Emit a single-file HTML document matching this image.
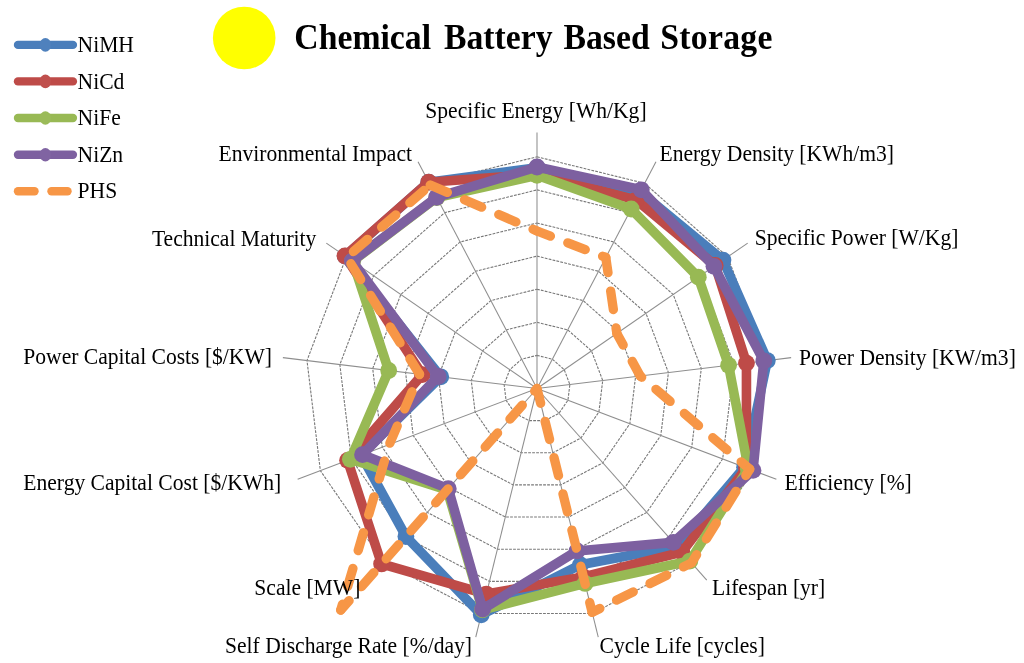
<!DOCTYPE html>
<html lang="en"><head><meta charset="utf-8"><title>Chemical Battery Based Storage</title>
<style>
html,body{margin:0;padding:0;background:#fff;}
body{width:1024px;height:663px;overflow:hidden;position:relative;font-family:"Liberation Serif","Times New Roman",serif;}
svg{position:absolute;left:0;top:0;display:block;}
text{font-family:"Liberation Serif","Times New Roman",serif;fill:#000;}
.lab{font-size:22.8px;}
.leg{font-size:22.8px;}
.title{font-size:36px;font-weight:bold;}
</style></head><body>
<svg width="1024" height="663" viewBox="0 0 1024 663">
<rect width="1024" height="663" fill="#fff"/>
<g fill="none" stroke="#787878" stroke-width="1.1" stroke-dasharray="2.8 1.2">
<polygon points="537.00,355.40 552.38,359.19 564.24,369.70 569.86,384.51 567.95,400.24 558.95,413.28 544.92,420.64 529.08,420.64 515.05,413.28 506.05,400.24 504.14,384.51 509.76,369.70 521.62,359.19"/>
<polygon points="537.00,322.30 567.76,329.88 591.48,350.89 602.72,380.52 598.90,411.97 580.90,438.05 552.84,452.78 521.16,452.78 493.10,438.05 475.10,411.97 471.28,380.52 482.52,350.89 506.24,329.88"/>
<polygon points="537.00,289.20 583.15,300.57 618.72,332.09 635.58,376.53 629.85,423.71 602.85,462.83 560.76,484.91 513.24,484.91 471.15,462.83 444.15,423.71 438.42,376.53 455.28,332.09 490.85,300.57"/>
<polygon points="537.00,256.10 598.53,271.27 645.96,313.29 668.43,372.54 660.80,435.45 624.80,487.60 568.69,517.05 505.31,517.05 449.20,487.60 413.20,435.45 405.57,372.54 428.04,313.29 475.47,271.27"/>
<polygon points="537.00,223.00 613.91,241.96 673.20,294.49 701.29,368.55 691.75,447.19 646.75,512.38 576.61,549.19 497.39,549.19 427.25,512.38 382.25,447.19 372.71,368.55 400.80,294.49 460.09,241.96"/>
<polygon points="537.00,189.90 629.29,212.65 700.44,275.68 734.15,364.56 722.69,458.92 668.70,537.15 584.53,581.33 489.47,581.33 405.30,537.15 351.31,458.92 339.85,364.56 373.56,275.68 444.71,212.65"/>
<polygon points="537.00,156.80 644.68,183.34 727.69,256.88 767.01,360.57 753.64,470.66 690.65,561.93 592.45,613.47 481.55,613.47 383.35,561.93 320.36,470.66 306.99,360.57 346.31,256.88 429.32,183.34"/>
</g>
<g stroke="#8e8e8e" stroke-width="1.05">
<line x1="537.0" y1="388.5" x2="537.00" y2="132.50"/>
<line x1="537.0" y1="388.5" x2="655.97" y2="161.82"/>
<line x1="537.0" y1="388.5" x2="747.68" y2="243.08"/>
<line x1="537.0" y1="388.5" x2="791.13" y2="357.64"/>
<line x1="537.0" y1="388.5" x2="776.36" y2="479.28"/>
<line x1="537.0" y1="388.5" x2="706.76" y2="580.12"/>
<line x1="537.0" y1="388.5" x2="598.26" y2="637.06"/>
<line x1="537.0" y1="388.5" x2="475.74" y2="637.06"/>
<line x1="537.0" y1="388.5" x2="367.24" y2="580.12"/>
<line x1="537.0" y1="388.5" x2="297.64" y2="479.28"/>
<line x1="537.0" y1="388.5" x2="282.87" y2="357.64"/>
<line x1="537.0" y1="388.5" x2="326.32" y2="243.08"/>
<line x1="537.0" y1="388.5" x2="418.03" y2="161.82"/>
</g>
<polygon points="537.00,167.70 640.17,191.93 722.99,260.12 767.31,360.54 744.57,467.22 676.92,546.44 580.46,564.82 481.24,614.73 405.90,536.48 361.22,455.17 440.71,376.81 345.24,256.14 428.72,182.19" fill="none" stroke="#4A7EBB" stroke-width="9.6" stroke-linejoin="round"/>
<g fill="#4A7EBB"><circle cx="537.00" cy="167.70" r="8.4"/><circle cx="640.17" cy="191.93" r="8.4"/><circle cx="722.99" cy="260.12" r="8.4"/><circle cx="767.31" cy="360.54" r="8.4"/><circle cx="744.57" cy="467.22" r="8.4"/><circle cx="676.92" cy="546.44" r="8.4"/><circle cx="580.46" cy="564.82" r="8.4"/><circle cx="481.24" cy="614.73" r="8.4"/><circle cx="405.90" cy="536.48" r="8.4"/><circle cx="361.22" cy="455.17" r="8.4"/><circle cx="440.71" cy="376.81" r="8.4"/><circle cx="345.24" cy="256.14" r="8.4"/><circle cx="428.72" cy="182.19" r="8.4"/></g>
<polygon points="537.00,174.20 635.99,199.90 715.18,265.51 746.46,363.07 746.44,467.93 681.96,552.12 583.43,576.86 486.34,594.05 381.56,563.95 347.57,460.34 422.34,374.58 345.00,255.97 428.72,182.19" fill="none" stroke="#BE4B48" stroke-width="9.6" stroke-linejoin="round"/>
<g fill="#BE4B48"><circle cx="537.00" cy="174.20" r="8.4"/><circle cx="635.99" cy="199.90" r="8.4"/><circle cx="715.18" cy="265.51" r="8.4"/><circle cx="746.46" cy="363.07" r="8.4"/><circle cx="746.44" cy="467.93" r="8.4"/><circle cx="681.96" cy="552.12" r="8.4"/><circle cx="583.43" cy="576.86" r="8.4"/><circle cx="486.34" cy="594.05" r="8.4"/><circle cx="381.56" cy="563.95" r="8.4"/><circle cx="347.57" cy="460.34" r="8.4"/><circle cx="422.34" cy="374.58" r="8.4"/><circle cx="345.00" cy="255.97" r="8.4"/><circle cx="428.72" cy="182.19" r="8.4"/></g>
<polygon points="537.00,175.30 631.20,209.02 698.30,277.16 728.59,365.24 748.31,468.64 689.85,561.03 585.05,583.47 482.44,609.87 447.15,489.92 350.37,459.28 388.69,370.49 352.65,261.25 436.76,197.51" fill="none" stroke="#98B954" stroke-width="9.6" stroke-linejoin="round"/>
<g fill="#98B954"><circle cx="537.00" cy="175.30" r="8.4"/><circle cx="631.20" cy="209.02" r="8.4"/><circle cx="698.30" cy="277.16" r="8.4"/><circle cx="728.59" cy="365.24" r="8.4"/><circle cx="748.31" cy="468.64" r="8.4"/><circle cx="689.85" cy="561.03" r="8.4"/><circle cx="585.05" cy="583.47" r="8.4"/><circle cx="482.44" cy="609.87" r="8.4"/><circle cx="447.15" cy="489.92" r="8.4"/><circle cx="350.37" cy="459.28" r="8.4"/><circle cx="388.69" cy="370.49" r="8.4"/><circle cx="352.65" cy="261.25" r="8.4"/><circle cx="436.76" cy="197.51" r="8.4"/></g>
<polygon points="537.00,167.00 641.28,189.80 713.94,266.37 763.83,360.96 752.99,470.41 673.34,542.39 577.04,550.94 482.63,609.10 448.27,488.65 362.53,454.67 438.13,376.49 352.32,261.03 436.62,197.24" fill="none" stroke="#7D60A0" stroke-width="9.6" stroke-linejoin="round"/>
<g fill="#7D60A0"><circle cx="537.00" cy="167.00" r="8.4"/><circle cx="641.28" cy="189.80" r="8.4"/><circle cx="713.94" cy="266.37" r="8.4"/><circle cx="763.83" cy="360.96" r="8.4"/><circle cx="752.99" cy="470.41" r="8.4"/><circle cx="673.34" cy="542.39" r="8.4"/><circle cx="577.04" cy="550.94" r="8.4"/><circle cx="482.63" cy="609.10" r="8.4"/><circle cx="448.27" cy="488.65" r="8.4"/><circle cx="362.53" cy="454.67" r="8.4"/><circle cx="438.13" cy="376.49" r="8.4"/><circle cx="352.32" cy="261.03" r="8.4"/><circle cx="436.62" cy="197.24" r="8.4"/></g>
<g fill="none" stroke="#F79646" stroke-width="9.33" stroke-linecap="round" stroke-dasharray="18.66 18.66">
<line x1="430.21" y1="185.02" x2="537.00" y2="231.00" stroke-dashoffset="0.00"/>
<line x1="537.00" y1="231.00" x2="605.78" y2="257.45" stroke-dashoffset="4.31"/>
<line x1="605.78" y1="257.45" x2="616.83" y2="333.40" stroke-dashoffset="3.36"/>
<line x1="616.83" y1="333.40" x2="640.24" y2="375.96" stroke-dashoffset="5.47"/>
<line x1="640.24" y1="375.96" x2="749.72" y2="469.17" stroke-dashoffset="16.73"/>
<line x1="749.72" y1="469.17" x2="691.51" y2="562.90" stroke-dashoffset="11.23"/>
<line x1="691.51" y1="562.90" x2="592.16" y2="612.30" stroke-dashoffset="9.60"/>
<line x1="592.16" y1="612.30" x2="537.00" y2="388.50" stroke-dashoffset="8.59"/>
<line x1="537.00" y1="388.50" x2="340.72" y2="610.06" stroke-dashoffset="15.17"/>
<line x1="340.72" y1="610.06" x2="389.27" y2="444.53" stroke-dashoffset="12.61"/>
<line x1="389.27" y1="444.53" x2="419.56" y2="374.24" stroke-dashoffset="35.83"/>
<line x1="419.56" y1="374.24" x2="346.89" y2="257.28" stroke-dashoffset="0.41"/>
<line x1="346.89" y1="257.28" x2="430.21" y2="185.02" stroke-dashoffset="28.65"/>
</g>
<circle cx="244.2" cy="38" r="31.3" fill="#FFFF00"/>
<text class="title" transform="translate(294.3,48.5) scale(0.937,1)"><tspan x="0.00">Chemical </tspan><tspan x="159.66">Battery </tspan><tspan x="287.30">Based </tspan><tspan x="390.50" letter-spacing="0.32">Storage</tspan></text>
<text class="lab" transform="translate(425.3,118.0) scale(0.947,1)">Specific Energy [Wh/Kg]</text>
<text class="lab" transform="translate(659.5,160.5) scale(0.947,1)">Energy Density [KWh/m3]</text>
<text class="lab" transform="translate(754.7,245.3) scale(0.947,1)">Specific Power [W/Kg]</text>
<text class="lab" transform="translate(798.9,364.6) scale(0.947,1)">Power Density [KW/m3]</text>
<text class="lab" transform="translate(784.6,490.1) scale(0.947,1)">Efficiency [%]</text>
<text class="lab" transform="translate(712.0,594.7) scale(0.947,1)">Lifespan [yr]</text>
<text class="lab" transform="translate(599.6,653.3) scale(0.947,1)">Cycle Life [cycles]</text>
<text class="lab" transform="translate(225.0,653.3) scale(0.947,1)">Self Discharge Rate [%/day]</text>
<text class="lab" transform="translate(254.3,595.0) scale(0.947,1)">Scale [MW]</text>
<text class="lab" transform="translate(23.3,490.1) scale(0.947,1)">Energy Capital Cost [$/KWh]</text>
<text class="lab" transform="translate(23.3,363.9) scale(0.947,1)">Power Capital Costs [$/KW]</text>
<text class="lab" transform="translate(151.9,245.5) scale(0.947,1)">Technical Maturity</text>
<text class="lab" transform="translate(218.5,160.8) scale(0.947,1)">Environmental Impact</text>
<line x1="18.0" y1="44.9" x2="72.9" y2="44.9" stroke="#4A7EBB" stroke-width="8.4" stroke-linecap="round"/>
<ellipse cx="45.4" cy="44.9" rx="5.7" ry="6.8" fill="#4F81BD"/>
<text class="leg" transform="translate(77.6,52.0) scale(0.947,1)">NiMH</text>
<line x1="18.0" y1="81.4" x2="72.9" y2="81.4" stroke="#BE4B48" stroke-width="8.4" stroke-linecap="round"/>
<ellipse cx="45.4" cy="81.4" rx="5.7" ry="6.8" fill="#C0504D"/>
<text class="leg" transform="translate(77.6,88.5) scale(0.947,1)">NiCd</text>
<line x1="18.0" y1="118.0" x2="72.9" y2="118.0" stroke="#98B954" stroke-width="8.4" stroke-linecap="round"/>
<ellipse cx="45.4" cy="118.0" rx="5.7" ry="6.8" fill="#9BBB59"/>
<text class="leg" transform="translate(77.6,125.1) scale(0.947,1)">NiFe</text>
<line x1="18.0" y1="154.7" x2="72.9" y2="154.7" stroke="#7D60A0" stroke-width="8.4" stroke-linecap="round"/>
<ellipse cx="45.4" cy="154.7" rx="5.7" ry="6.8" fill="#8064A2"/>
<text class="leg" transform="translate(77.6,161.8) scale(0.947,1)">NiZn</text>
<line x1="18.0" y1="191.2" x2="34.5" y2="191.2" stroke="#F79646" stroke-width="8.4" stroke-linecap="round"/>
<line x1="51.5" y1="191.2" x2="67.5" y2="191.2" stroke="#F79646" stroke-width="8.4" stroke-linecap="round"/>
<text class="leg" transform="translate(77.6,198.3) scale(0.947,1)">PHS</text>
</svg></body></html>
